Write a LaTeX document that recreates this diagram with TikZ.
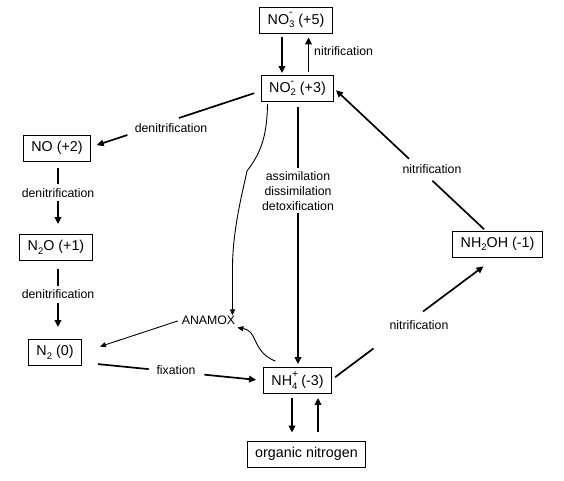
\documentclass[tikz,border=0pt]{standalone}
\usepackage{fontspec}
\setmainfont{Liberation Sans}
\usetikzlibrary{arrows.meta}
\newcommand{\chsb}[1]{\raisebox{-0.45ex}{\fontsize{9.5}{9.5}\selectfont #1}}
\newcommand{\chion}[2]{\rlap{\raisebox{1.1ex}{\fontsize{10.5}{10.5}\selectfont #2}}\chsb{#1}}
\begin{document}
\begin{tikzpicture}[x=1pt,y=-1pt,
 box/.style={draw,line width=0.8pt,font=\fontsize{14.3}{17}\selectfont,inner xsep=8pt,inner ysep=0pt,minimum height=26pt},
 lbl/.style={font=\fontsize{12.3}{15}\selectfont,inner sep=1pt,align=center},
 lblw/.style={lbl,fill=white,inner xsep=2pt,inner ysep=4pt},
 ln/.style={line width=1.7pt},
 arr/.style={ln,-{Triangle[length=7pt,width=6.5pt]}},
 tarr/.style={line width=0.9pt,-{Triangle[length=6pt,width=5pt]}}]
\useasboundingbox (0,0) rectangle (564,481);

% boxes
\node[box] (no3) at (296,20) {NO\chion{3}{-} (+5)};
\node[box] (no2) at (297.5,88.5) {NO\chion{2}{-} (+3)};
\node[box] (no) at (57,148) {NO (+2)};
\node[box] (n2o) at (56,247.5) {N\chsb{2}O (+1)};
\node[box] (n2) at (55,352.5) {N\chsb{2} (0)};
\node[box] (nh4) at (297.5,380.5) {NH\chion{4}{+} (-3)};
\node[box] (org) at (306.5,454) {organic nitrogen};
\node[box] (nh2oh) at (497.5,244) {NH\chsb{2}OH (-1)};
\node[lbl] (anamox) at (208.5,320) {ANAMOX};

% NO3 <-> NO2
\draw[arr,shorten <=4pt,shorten >=2pt] ([xshift=-14pt]no3.south) -- ([xshift=-14pt]no3.south |- no2.north);
\draw[arr,shorten <=3pt,shorten >=4pt] ([xshift=11pt]no2.north) -- ([xshift=11pt]no2.north |- no3.south);
\node[lbl,anchor=west] (lnit1) at (313,51) {nitrification};

% NO2 -> NO (denitrification)
\path ([yshift=-2.5pt]no2.west) -- ([yshift=1pt]no.east) coordinate[pos=0.482] (d1) coordinate[pos=0.786] (d2);
\draw[ln,shorten <=7pt] ([yshift=-2.5pt]no2.west) -- (d1);
\draw[arr,shorten >=6pt] (d2) -- ([yshift=1pt]no.east);
\node[lbl] (lden1) at (171,128) {denitrification};

% NO -> N2O
\draw[arr,shorten <=7pt,shorten >=10pt] ([xshift=1pt]no.south) -- node[lblw,pos=0.43] (lden2) {denitrification} ([xshift=1pt]no.south |- n2o.north);
% N2O -> N2
\draw[arr,shorten <=8pt,shorten >=12pt] ([xshift=2pt]n2o.south) -- node[lblw,pos=0.43] (lden3) {denitrification} ([xshift=2pt]n2o.south |- n2.north);

% ANAMOX -> N2
\draw[tarr,shorten <=3pt,shorten >=19pt] (anamox.west) -- (n2.east);

% N2 -> NH4 (fixation)
\path ([yshift=-10pt]n2.east) -- (nh4.west) coordinate[pos=0.369] (f1) coordinate[pos=0.676] (f2);
\draw[ln,shorten <=16pt] ([yshift=-10pt]n2.east) -- (f1);
\draw[arr,shorten >=7pt] (f2) -- (nh4.west);
\node[lbl] (lfix) at (176,370) {fixation};

% NO2 -> NH4
\draw[arr,shorten <=5pt,shorten >=3pt] ([xshift=0.5pt]no2.south) -- node[lblw,pos=0.335,inner ysep=3pt] (lass) {assimilation\\dissimilation\\detoxification} ([xshift=0.5pt]nh4.north);

% NO2 -> ANAMOX (curve)
\draw[tarr] ([xshift=-30pt,yshift=-2pt]no2.south) .. controls (267,140) and (259,155) .. (247,171)
  .. controls (243,190) and (233,228) .. (232.5,265) -- ([xshift=24pt,yshift=-1pt]anamox.north);

% NH4 -> ANAMOX (wavy)
\draw[tarr] ([xshift=-22pt,yshift=6pt]nh4.north) .. controls (261,356) and (257,344) .. (253,336)
  .. controls (249,329) and (245,329) .. ([xshift=1pt,yshift=-2pt]anamox.south east);

% NH4 -> NH2OH
\path ([yshift=1pt]nh4.east) -- ([xshift=-2pt]nh2oh.south) coordinate[pos=0.254] (n1) coordinate[pos=0.557] (n2);
\draw[ln,shorten <=4pt] ([yshift=1pt]nh4.east) -- (n1);
\draw[arr,shorten >=15pt] (n2) -- ([xshift=-2pt]nh2oh.south);
\node[lbl] (lnit2) at (419,325) {nitrification};

% NH2OH -> NO2
\path ([xshift=-12pt]nh2oh.north) -- (no2.east) coordinate[pos=0.351] (m1) coordinate[pos=0.505] (m2);
\draw[ln,shorten <=2pt] ([xshift=-12pt]nh2oh.north) -- (m1);
\draw[arr,shorten >=2.5pt] (m2) -- (no2.east);
\node[lbl] (lnit3) at (432,169) {nitrification};

% NH4 <-> organic nitrogen
\draw[arr,shorten <=4pt,shorten >=8pt] ([xshift=-5.5pt]nh4.south) -- ([xshift=-5.5pt]nh4.south |- org.north);
\draw[arr,shorten <=9pt,shorten >=4pt] ([xshift=20.5pt]nh4.south |- org.north) -- ([xshift=20.5pt]nh4.south);
\end{tikzpicture}
\end{document}
